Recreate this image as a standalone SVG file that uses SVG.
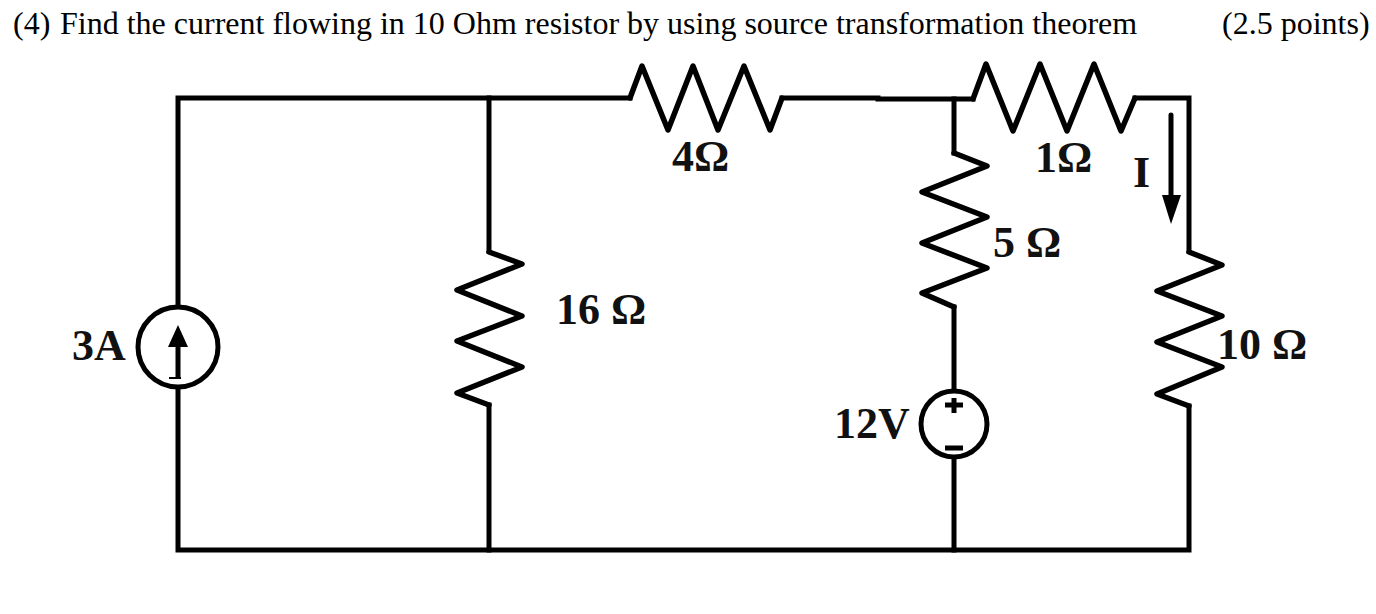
<svg xmlns="http://www.w3.org/2000/svg" width="1376" height="614" viewBox="0 0 1376 614">
<style>
.w{fill:none;stroke:#000;stroke-width:5;stroke-linejoin:miter;stroke-linecap:square}
.z{fill:none;stroke:#000;stroke-width:5.5;stroke-linejoin:round;stroke-linecap:round}
.s{fill:#fff;stroke:#000;stroke-width:5}
.t{font-family:"Liberation Serif","Times New Roman",serif;fill:#000;font-size:32px}
.l{font-family:"Liberation Serif","Times New Roman",serif;fill:#111;font-size:44px;font-weight:bold}
</style>
<rect width="1376" height="614" fill="#fff"/>
<text class="t" x="13" y="34">(4)</text>
<text class="t" x="60" y="34">Find the current flowing in 10 Ohm resistor by using source transformation theorem</text>
<text class="t" x="1222" y="34">(2.5 points)</text>
<g id="connectors">
<path class="w" d="M178 307V98H630"/>
<path class="w" d="M782 98H878"/>
<path class="w" d="M878 99H973" stroke-width="6"/>
<path class="w" d="M1135 98H1189V251"/>
<path class="w" d="M489 98V251"/>
<path class="w" d="M954 99V153"/>
<path class="w" d="M954 307V390"/>
<path class="w" d="M954 458V550"/>
<path class="w" d="M178 388V550H1189V406"/>
<path class="w" d="M489 405V550"/>
</g>
<g id="r4"><path class="z" d="M630 98L642 66L668 130L693 66L718 130L744 66L770 130L782 98"/><text class="l" x="672" y="171">4Ω</text></g>
<g id="r1"><path class="z" d="M973 99L986 64L1013 131L1040 64L1067 131L1094 64L1121 131L1135 98"/><text class="l" x="1035" y="172">1Ω</text></g>
<g id="r5"><path class="z" d="M954 153L987 166L922 192L987 217L922 243L987 268L922 293L954 307"/><text class="l" x="993" y="257">5 Ω</text></g>
<g id="r16"><path class="z" d="M489 252L522 264L457 290L522 316L457 341L522 367L457 393L489 405"/><text class="l" x="556" y="324">16 Ω</text></g>
<g id="r10"><path class="z" d="M1189 252L1222 265L1157 291L1222 316L1157 342L1222 367L1157 394L1189 406"/><text class="l" x="1217" y="359">10 Ω</text></g>
<g id="i3"><circle class="s" cx="178" cy="347" r="40"/><path d="M178 325L188 347H168Z" fill="#000"/><path d="M178 345V378" stroke="#000" stroke-width="5"/><path d="M169 378H181" stroke="#000" stroke-width="2"/><text class="l" x="72" y="360">3A</text></g>
<g id="v12"><circle class="s" cx="954" cy="424" r="33"/><path d="M945 405H963M954 398V413M945 448H963" stroke="#000" stroke-width="5" fill="none"/><text class="l" x="834" y="438">12V</text></g>
<g id="current"><path d="M1171 115V197" stroke="#000" stroke-width="5" stroke-linecap="round"/><path d="M1162 195H1181L1171 224Z" fill="#000"/><text class="l" x="1133" y="187">I</text></g>
</svg>
